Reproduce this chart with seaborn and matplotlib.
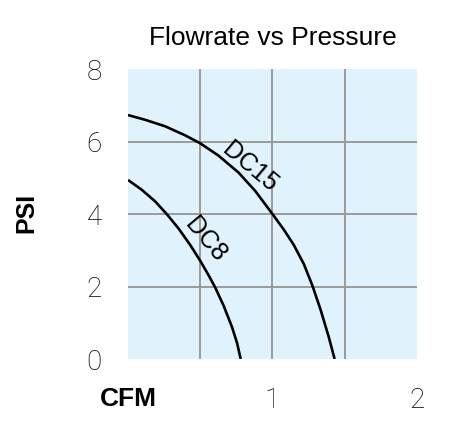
import matplotlib
matplotlib.use("Agg")
import matplotlib.pyplot as plt
import seaborn as sns
import pandas as pd

# ---- data ----
dc15_cfm = [0, 0.118, 0.257, 0.396, 0.5, 0.627, 0.766, 0.882, 1.0, 1.08, 1.147, 1.217, 1.275, 1.333, 1.39, 1.43]
dc15_psi = [6.73, 6.60, 6.42, 6.17, 5.95, 5.61, 5.14, 4.63, 4.0, 3.56, 3.15, 2.62, 2.04, 1.36, 0.6, 0.0]
dc8_cfm = [0, 0.095, 0.1875, 0.268, 0.35, 0.43, 0.5, 0.558, 0.604, 0.662, 0.72, 0.755, 0.78]
dc8_psi = [4.94, 4.67, 4.35, 4.0, 3.60, 3.15, 2.71, 2.31, 1.97, 1.47, 0.88, 0.44, 0.0]
series_names = ["DC15", "DC8"]
x_ticks = [0, 1, 2]
x_tick_labels = ["CFM", "1", "2"]
y_ticks = [0, 2, 4, 6, 8]
y_tick_labels = ["0", "2", "4", "6", "8"]
grid_x = [0.5, 1.0, 1.5]
grid_y = [2, 4, 6]
title = "Flowrate vs Pressure"
y_label = "PSI"

df = pd.concat([
    pd.DataFrame({"cfm": dc15_cfm, "psi": dc15_psi, "series": series_names[0]}),
    pd.DataFrame({"cfm": dc8_cfm, "psi": dc8_psi, "series": series_names[1]}),
], ignore_index=True)

sns.set_style("white")
plt.rcParams["font.family"] = ["Liberation Sans", "DejaVu Sans"]
plt.rcParams["text.color"] = "black"
plt.rcParams["axes.labelcolor"] = "black"
plt.rcParams["xtick.color"] = "black"
plt.rcParams["ytick.color"] = "black"

fig = plt.figure(figsize=(4.5, 4.43), dpi=100)
ax = fig.add_axes([0.2844, 0.1896, 0.6422, 0.6546])
ax.set_facecolor("#E0F2FC")

for gx in grid_x:
    ax.axvline(gx, color="#9a9a9a", linewidth=1.4, zorder=1)
for gy in grid_y:
    ax.axhline(gy, color="#9a9a9a", linewidth=1.4, zorder=1)

sns.lineplot(data=df, x="cfm", y="psi", hue="series", units="series",
             estimator=None, sort=False, palette=["black", "black"],
             linewidth=1.9, legend=False, ax=ax, zorder=3)
for ln in ax.get_lines():
    ln.set_solid_joinstyle("round")
    ln.set_solid_capstyle("butt")

ax.set_xlim(0, 2)
ax.set_ylim(0, 8)

for s in ax.spines.values():
    s.set_visible(False)

ax.set_xticks(x_ticks)
ax.set_xticklabels(x_tick_labels)
ax.set_yticks(y_ticks)
ax.set_yticklabels(y_tick_labels)
ax.grid(False)
ax.tick_params(which="both", length=0)
ax.tick_params(axis="x", pad=20)
ax.tick_params(axis="y", pad=19)

for lbl in ax.get_xticklabels() + ax.get_yticklabels():
    lbl.set_fontfamily(["Roboto", "Liberation Sans", "DejaVu Sans"])
    lbl.set_fontweight("light")
    lbl.set_fontsize(20)
    lbl.set_color("black")
cfm_lbl = ax.get_xticklabels()[0]
cfm_lbl.set_fontfamily(["Liberation Sans", "DejaVu Sans"])
cfm_lbl.set_fontweight("bold")
cfm_lbl.set_fontsize(19)

ax.set_xlabel("")
ax.set_ylabel(y_label, fontsize=18, fontweight="bold", color="black")
ax.yaxis.set_label_coords(-0.31, 0.503)

ax.set_title(title, fontsize=19, pad=17, color="black")

ax.text(0.844, 5.30, series_names[0], fontsize=18, rotation=-40,
        ha="center", va="center", zorder=4, color="black")
ax.text(0.533, 3.28, series_names[1], fontsize=18, rotation=-50,
        ha="center", va="center", zorder=4, color="black")

fig.savefig("out.png", dpi=100)
